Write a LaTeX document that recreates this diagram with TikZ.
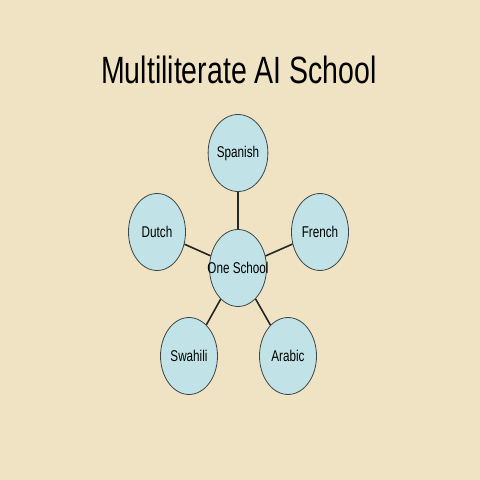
\documentclass[tikz,border=0pt]{standalone}
\usepackage{fontspec}
\setmainfont{Liberation Sans}[FakeStretch=0.75]
\usetikzlibrary{shapes.geometric}
\definecolor{parch}{RGB}{240,227,195}
\definecolor{bubble}{RGB}{193,226,230}
\definecolor{rim}{RGB}{60,70,72}
\tikzset{
  bubblenode/.style={ellipse,draw=rim,line width=0.8pt,fill=bubble,minimum width=57pt,minimum height=77pt,inner sep=0pt,font=\fontsize{15.6}{18}\selectfont},
  link/.style={line width=1.6pt,draw=black!85}
}
\begin{document}
\begin{tikzpicture}[x=1pt,y=1pt]
\fill[parch] (0,0) rectangle (480,480);
\useasboundingbox (0,0) rectangle (480,480);
\node[font=\fontsize{38}{44}\selectfont] (title) at (239,410) {Multiliterate AI School};
\node[bubblenode] (one) at (238,212) {\makebox[0pt]{One School}};
\node[bubblenode] (spanish) at (238,327) {Spanish};
\node[bubblenode] (dutch) at (157,248) {Dutch};
\node[bubblenode] (french) at (320,248) {French};
\node[bubblenode] (swahili) at (189,124) {Swahili};
\node[bubblenode] (arabic) at (288,124) {Arabic};
\draw[link] (one) -- (spanish);
\draw[link] (one) -- (dutch);
\draw[link] (one) -- (french);
\draw[link] (one) -- (swahili);
\draw[link] (one) -- (arabic);
\end{tikzpicture}
\end{document}
